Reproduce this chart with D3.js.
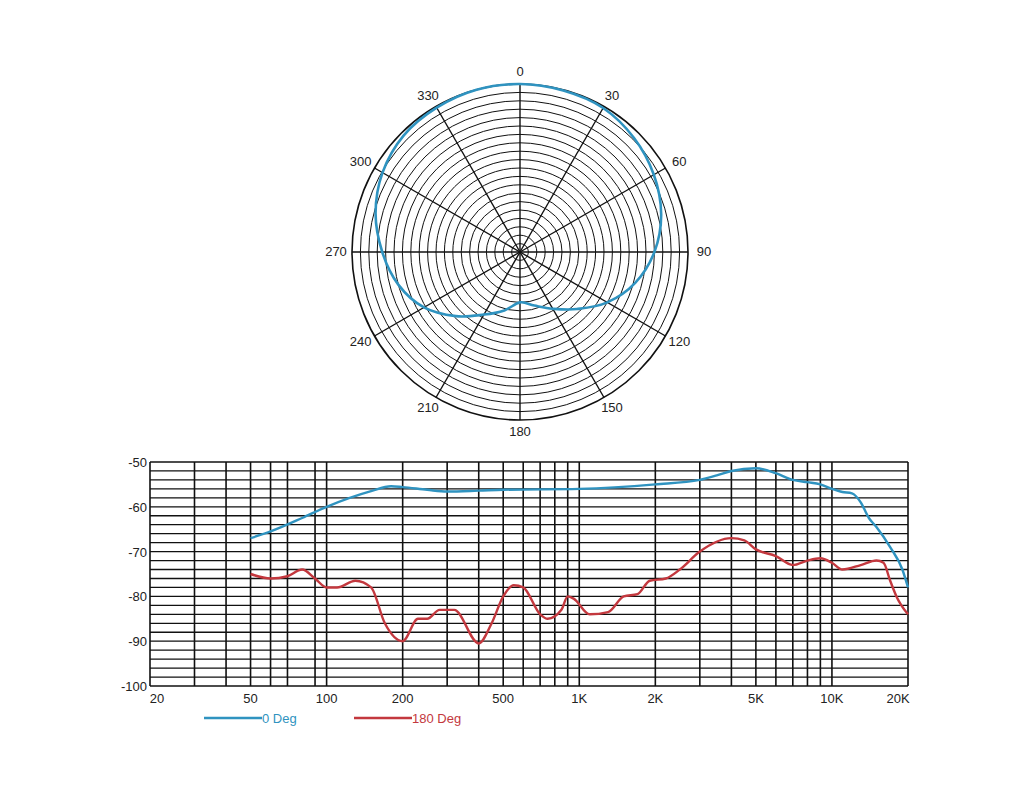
<!DOCTYPE html>
<html><head><meta charset="utf-8">
<script src="https://cdn.jsdelivr.net/npm/d3@7"></script>
<style>body{margin:0;background:#fff}text{font-family:"Liberation Sans",Arial,sans-serif}</style>
</head><body>
<svg id="c" width="1024" height="801"></svg>
<script>
// polar pattern, normalized radius every 15 deg
var polarAngles = d3.range(0, 360, 15);
var polarValues = [1.0,0.995,0.99,0.96,0.92,0.87,0.80,0.71,0.60,0.48,0.39,0.33,0.30,0.36,0.43,0.54,0.66,0.75,0.82,0.89,0.945,0.98,0.992,1.0];
var polarLabels = d3.range(0, 360, 30);

// frequency response
var freq0 = [50,60,80,100,150,180,200,250,300,400,500,1000,2000,3000,3500,4000,5000,6000,7000,8000,9000,10000,11000,12000,13000,14000,15000,17000,19000,20000];
var db0 = [-67,-65.5,-62.5,-60,-56.5,-55.4,-55.6,-56.2,-56.6,-56.4,-56.2,-56,-55,-54,-53,-52,-51.4,-52.5,-54,-54.5,-55,-56,-56.7,-57,-59,-62.5,-64.5,-69,-74,-78];
var freq180 = [50,60,70,80,90,100,110,130,150,170,200,230,250,280,320,400,450,500,550,600,700,750,850,900,950,1100,1300,1500,1700,1900,2200,2500,3000,4000,4500,5000,6000,7000,8000,9000,10000,11000,13000,15000,16000,17000,18000,20000];
var db180 = [-75,-76,-75.5,-74,-76,-78,-78,-76.5,-78,-86,-90,-85,-85,-83,-83,-90.5,-86,-80,-77.5,-78,-84,-85,-83,-80,-80.5,-84,-83.5,-80,-79.5,-76.5,-76,-74,-70,-67,-67.5,-69.5,-71,-73,-72,-71.5,-72.5,-74,-73,-72,-72.5,-76.5,-80,-84];
var gridFreqs = [20,30,40,50,60,70,90,100,200,300,400,500,600,700,800,900,1000,2000,3000,4000,5000,6000,7000,8000,9000,10000,20000];
var freqTicks = [20,50,100,200,500,1000,2000,5000,10000,20000];
var freqTickLabels = ["20","50","100","200","500","1K","2K","5K","10K","20K"];
var dbTicks = [-50,-60,-70,-80,-90,-100];

var blue = "#2f93c0", red = "#c3383e";
var svg = d3.select("#c");

// ---- polar
var cx = 520, cy = 252, R = 168;
var rs = d3.scaleLinear().domain([0, 1]).range([0, R]);
var pg = svg.append("g").attr("transform", "translate(" + cx + "," + cy + ")");
pg.selectAll("circle.ring").data(d3.range(1, 21)).enter().append("circle")
  .attr("r", function(d){ return rs(d / 20); })
  .attr("fill", "none").attr("stroke", "#111").attr("stroke-width", function(d){ return d === 20 ? 1.6 : 1; });
pg.selectAll("line.spoke").data(polarLabels).enter().append("line")
  .attr("x1", 0).attr("y1", 0)
  .attr("x2", function(d){ return R * Math.sin(d * Math.PI / 180); })
  .attr("y2", function(d){ return -R * Math.cos(d * Math.PI / 180); })
  .attr("stroke", "#111").attr("stroke-width", 1.4);
pg.selectAll("text").data(polarLabels).enter().append("text")
  .attr("x", function(d){ return (R + 16) * Math.sin(d * Math.PI / 180); })
  .attr("y", function(d){ return -(R + 12) * Math.cos(d * Math.PI / 180) + 4; })
  .attr("text-anchor", "middle").attr("font-size", 13).attr("fill", "#222")
  .text(function(d){ return d; });
var radial = d3.lineRadial().angle(function(d){ return d[0] * Math.PI / 180; })
  .radius(function(d){ return rs(d[1]); }).curve(d3.curveCardinalClosed);
pg.append("path").datum(polarAngles.map(function(a, i){ return [a, polarValues[i]]; }))
  .attr("d", radial).attr("fill", "none").attr("stroke", blue).attr("stroke-width", 2.6);

// ---- frequency response
var x = d3.scaleLog().domain([20, 20000]).range([150, 908]);
var y = d3.scaleLinear().domain([-100, -50]).range([686, 462]);
var fg = svg.append("g");
fg.selectAll("line.h").data(d3.range(-100, -49, 2)).enter().append("line")
  .attr("x1", 150).attr("x2", 908).attr("y1", y).attr("y2", y)
  .attr("stroke", "#111").attr("stroke-width", 1.3);
fg.selectAll("line.v").data(gridFreqs).enter().append("line")
  .attr("x1", x).attr("x2", x).attr("y1", 462).attr("y2", 686)
  .attr("stroke", "#111").attr("stroke-width", 1.6);
fg.selectAll("text.y").data(dbTicks).enter().append("text")
  .attr("x", 147).attr("y", function(d){ return y(d) + 5; })
  .attr("text-anchor", "end").attr("font-size", 13).attr("fill", "#222").text(function(d){ return d; });
fg.selectAll("text.x").data(freqTicks).enter().append("text")
  .attr("x", function(d, i){ return i === 0 ? x(d) + 7 : (i === freqTicks.length - 1 ? x(d) - 10 : x(d)); })
  .attr("y", 703).attr("text-anchor", "middle").attr("font-size", 13).attr("fill", "#222")
  .text(function(d, i){ return freqTickLabels[i]; });
var line = d3.line().x(function(d){ return x(d[0]); }).y(function(d){ return y(d[1]); }).curve(d3.curveMonotoneX);
fg.append("path").datum(freq0.map(function(f, i){ return [f, db0[i]]; }))
  .attr("d", line).attr("fill", "none").attr("stroke", blue).attr("stroke-width", 2.4);
fg.append("path").datum(freq180.map(function(f, i){ return [f, db180[i]]; }))
  .attr("d", line).attr("fill", "none").attr("stroke", red).attr("stroke-width", 2.4);

// legend
var legend = [{name: "0 Deg", color: blue, x: 204}, {name: "180 Deg", color: red, x: 354}];
var lg = svg.selectAll("g.leg").data(legend).enter().append("g");
lg.append("line").attr("x1", function(d){ return d.x; }).attr("x2", function(d){ return d.x + 58; })
  .attr("y1", 718).attr("y2", 718).attr("stroke", function(d){ return d.color; }).attr("stroke-width", 2.6);
lg.append("text").attr("x", function(d){ return d.x + 58; }).attr("y", 723).attr("font-size", 13)
  .attr("fill", function(d){ return d.color; }).text(function(d){ return d.name; });
</script>
</body></html>
